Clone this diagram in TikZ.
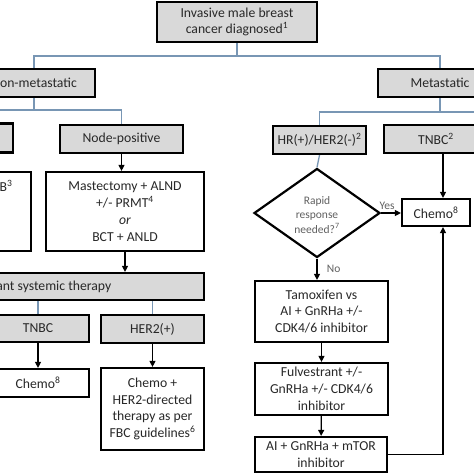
\documentclass[tikz,border=0pt]{standalone}
\usepackage{fontspec}
\setmainfont{Carlito}
\usetikzlibrary{shapes.geometric,arrows.meta,calc}
\definecolor{boxgray}{RGB}{217,217,217}
\definecolor{conn}{RGB}{120,150,180}
\definecolor{txt}{RGB}{40,40,40}
\begin{document}
\begin{tikzpicture}[x=1pt,y=-1pt,
  every node/.style={font=\fontsize{13.7}{16.8}\selectfont, text=txt},
  gbox/.style={draw=black, line width=2.2pt, fill=boxgray, inner sep=0pt, align=center},
  wbox/.style={draw=black, line width=2.2pt, fill=white, inner sep=0pt, align=center},
  link/.style={draw=conn, line width=1.3pt},
  arr/.style={draw=black, line width=1.2pt, -{Triangle[length=6pt,width=6pt]}},
  lbl/.style={font=\fontsize{11.5}{14.2}\selectfont, text=black!62},
]
\useasboundingbox (0,0) rectangle (474,474);
\clip (0,0) rectangle (474,474);
\fill[white] (0,0) rectangle (474,474);

% left column
\node[gbox, minimum width=160pt, minimum height=40pt] (top) at (237,22) {Invasive male breast\\cancer diagnosed\textsuperscript{1}};
\node[gbox, minimum width=122pt, minimum height=28pt] (nonmet) at (34,83) {Non-metastatic};
\node[gbox, minimum width=124pt, minimum height=28pt] (met) at (440,83) {Metastatic};
\node[gbox, minimum width=122pt, minimum height=29pt] (nodeneg) at (-48,138) {};
\node[gbox, minimum width=123pt, minimum height=28pt] (nodepos) at (121.5,139) {Node-positive};
\node[wbox, minimum width=122pt, minimum height=79pt] (leftbox) at (-30,211.5) {};
\node[anchor=east] (leftbtxt) at (16,186) {B\textsuperscript{3}};
\node[wbox, minimum width=158pt, minimum height=79pt] (mast) at (125,211.5) {Mastectomy + ALND\\+/- PRMT\textsuperscript{4}\\\textit{or}\\BCT + ANLD};
\node[gbox, minimum width=332pt, minimum height=27pt] (adj) at (38,286.5) {Adjuvant systemic therapy};
\node[gbox, minimum width=102pt, minimum height=27pt] (tnbcL) at (38,328.5) {TNBC};
\node[gbox, minimum width=103pt, minimum height=28pt] (her2L) at (152.5,329) {HER2(+)};
\node[wbox, minimum width=102pt, minimum height=28pt] (chemoL) at (38,383) {Chemo\textsuperscript{8}};
\node[wbox, minimum width=103pt, minimum height=82pt] (her2t) at (152.5,409) {Chemo +\\HER2-directed\\therapy as per\\FBC guidelines\textsuperscript{6}};

% right column
\node[gbox, minimum width=93pt, minimum height=28pt] (hr) at (319.5,140) {HR(+)/HER2(-)\textsuperscript{2}};
\node[gbox, minimum width=104pt, minimum height=28pt] (tnbcR) at (436,139) {TNBC\textsuperscript{2}};
\node[diamond, draw=black, line width=2.2pt, fill=white, minimum width=126pt, minimum height=89pt, inner sep=0pt] (dia) at (317,213) {};
\node[lbl, align=center] (diatxt) at (317,215) {Rapid\\response\\needed?\textsuperscript{7}};
\node[wbox, minimum width=68pt, minimum height=27pt] (chemoR) at (436,212.5) {Chemo\textsuperscript{8}};
\node[wbox, minimum width=133pt, minimum height=61pt] (tam) at (321.5,311.5) {Tamoxifen vs\\AI + GnRHa +/-\\CDK4/6 inhibitor};
\node[wbox, minimum width=133pt, minimum height=52pt] (fulv) at (321.5,389) {Fulvestrant +/-\\GnRHa +/- CDK4/6\\inhibitor};
\node[wbox, minimum width=132pt, minimum height=35pt] (ai) at (321,454.5) {AI + GnRHa + mTOR\\inhibitor};

% blue connectors
\coordinate (j1) at (237,56);
\draw[link] (top.south) -- (j1);
\draw[link] (j1) -| (nonmet.north);
\draw[link] (j1) -| (met.north);
\coordinate (j2) at (34,110);
\draw[link] (nonmet.south) -- (j2);
\draw[link] (j2) -| (nodeneg.north);
\draw[link] (j2) -| (nodepos.north);
\coordinate (j3) at (440,112);
\coordinate (metR) at (490,112);
\draw[link] (met.south) -- (j3);
\draw[link] (j3) -| (hr.north);
\draw[link] (j3) -- (metR);
\draw[link] (hr.south) -- (dia.north);
\draw[link] (tnbcL.north |- adj.south) -- (tnbcL.north);
\draw[link] (her2L.north |- adj.south) -- (her2L.north);

% black arrows
\draw[arr] (nodepos.south) -- (nodepos.south |- mast.north);
\draw[arr] (mast.south) -- (mast.south |- adj.north);
\draw[arr] (tnbcL) -- (chemoL);
\draw[arr] (her2L) -- (her2t);
\draw[arr] (dia.east) -- (dia.east -| chemoR.west) node[pos=0.3, above, lbl, yshift=-1pt] {Yes};
\draw[arr] (dia.south) -- (dia.south |- tam.north) node[midway, right, lbl, xshift=6pt] {No};
\draw[arr] (tam) -- (fulv);
\draw[arr] (fulv) -- (ai);
\draw[arr] ([xshift=7pt]tnbcR.south) -- ([xshift=7pt]chemoR.north);
\draw[arr] (ai.east) -| ([xshift=7pt]chemoR.south);
\end{tikzpicture}
\end{document}
